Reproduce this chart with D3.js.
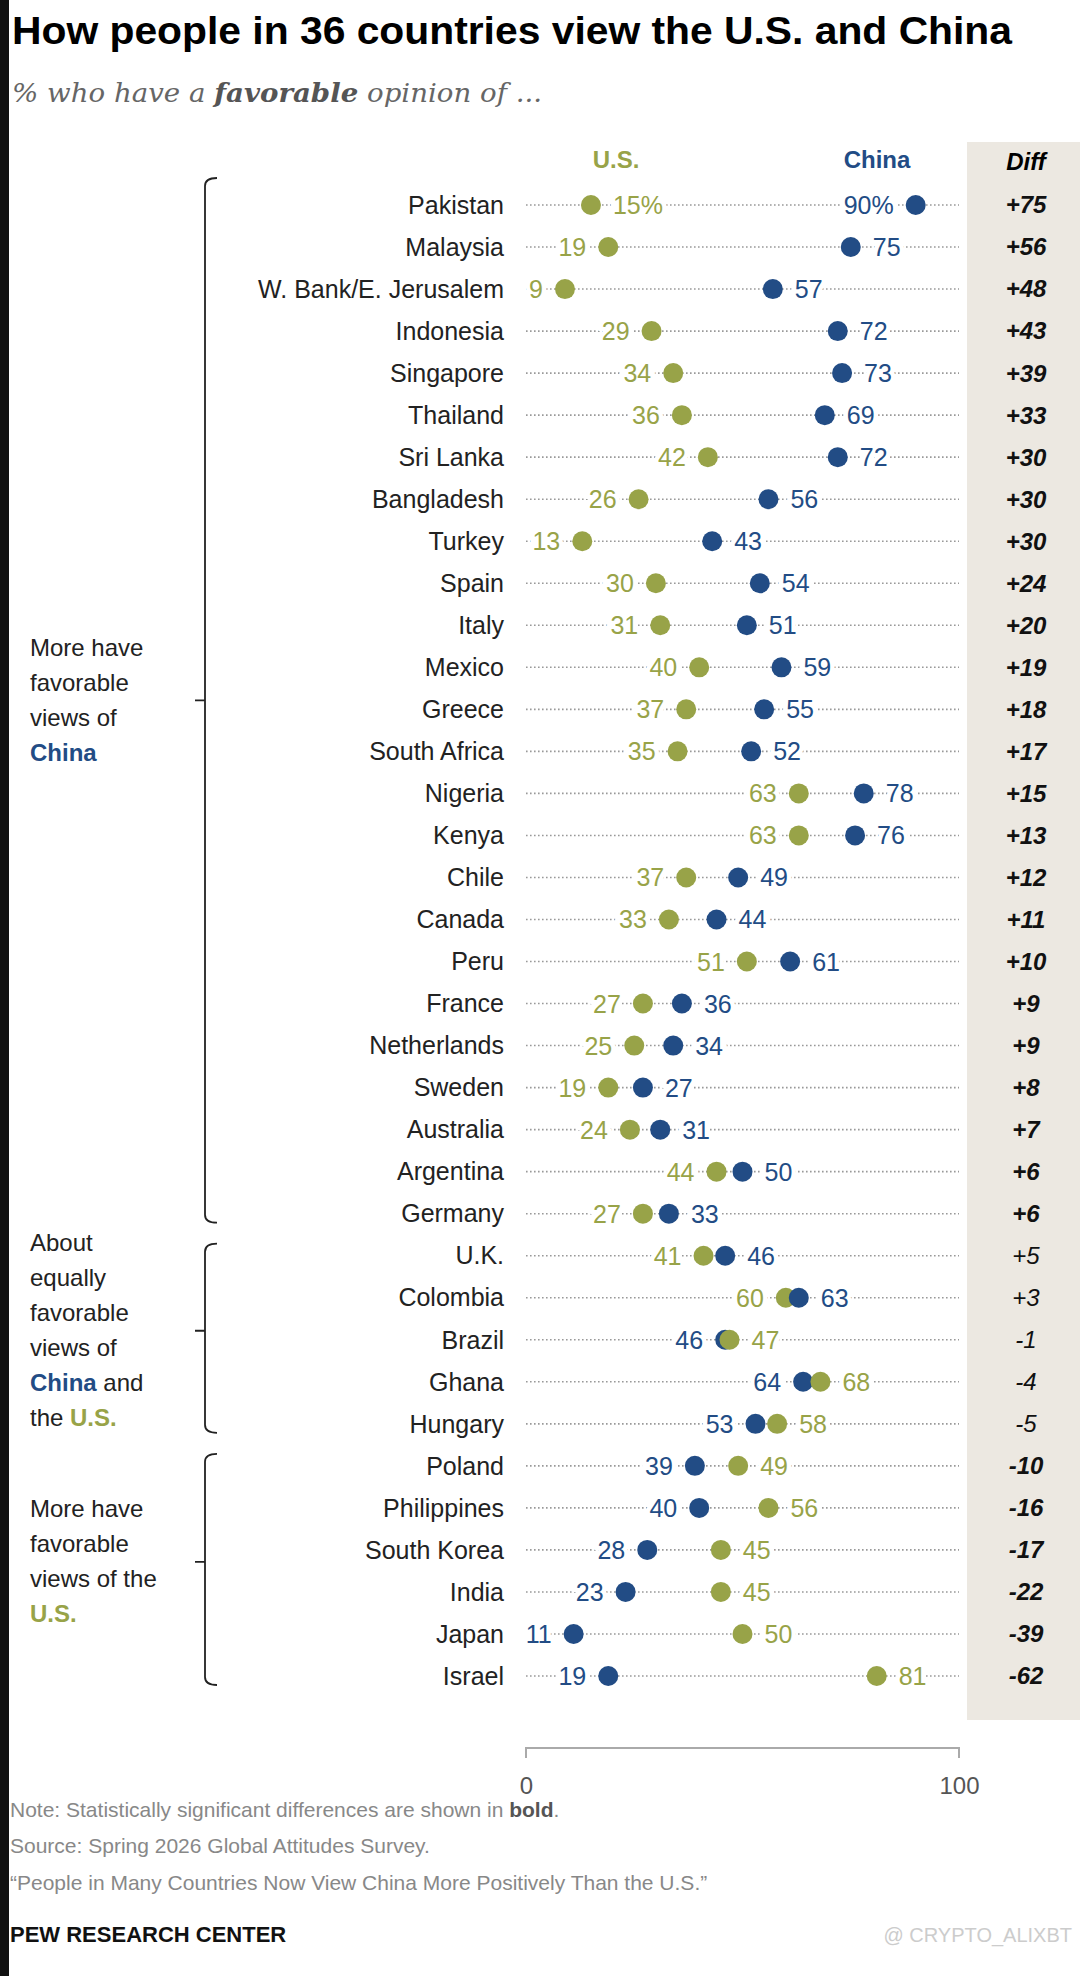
<!DOCTYPE html>
<html><head><meta charset="utf-8">
<script src="https://cdn.jsdelivr.net/npm/d3@7"></script>
<style>body{margin:0;background:#fff}svg{display:block}</style>
</head><body>
<script>
const countries=["Pakistan","Malaysia","W. Bank/E. Jerusalem","Indonesia","Singapore","Thailand","Sri Lanka","Bangladesh","Turkey","Spain","Italy","Mexico","Greece","South Africa","Nigeria","Kenya","Chile","Canada","Peru","France","Netherlands","Sweden","Australia","Argentina","Germany","U.K.","Colombia","Brazil","Ghana","Hungary","Poland","Philippines","South Korea","India","Japan","Israel"];
const usValues=[15,19,9,29,34,36,42,26,13,30,31,40,37,35,63,63,37,33,51,27,25,19,24,44,27,41,60,47,68,58,49,56,45,45,50,81];
const chinaValues=[90,75,57,72,73,69,72,56,43,54,51,59,55,52,78,76,49,44,61,36,34,27,31,50,33,46,63,46,64,53,39,40,28,23,11,19];
const diffLabels=["+75","+56","+48","+43","+39","+33","+30","+30","+30","+24","+20","+19","+18","+17","+15","+13","+12","+11","+10","+9","+9","+8","+7","+6","+6","+5","+3","-1","-4","-5","-10","-16","-17","-22","-39","-62"];
const diffBold=[1,1,1,1,1,1,1,1,1,1,1,1,1,1,1,1,1,1,1,1,1,1,1,1,1,0,0,0,0,0,1,1,1,1,1,1];
const groups=[{from:0,to:24,lines:[["More have"],["favorable"],["views of"],[["China","c"]]]},
 {from:25,to:29,lines:[["About"],["equally"],["favorable"],["views of"],[["China","c"],[" and",""]],[["the ",""],["U.S.","u"]]]},
 {from:30,to:35,lines:[["More have"],["favorable"],["views of the"],[["U.S.","u"]]]}];
const axisTicks=[0,100];

const US="#98a348",CN="#224c85",F="'Liberation Sans',Arial,sans-serif";
const W=1080,H=1976;
const svg=d3.select("body").append("svg").attr("width",W).attr("height",H).style("font-family",F);
svg.append("rect").attr("width",W).attr("height",H).attr("fill","#fff");
svg.append("rect").attr("width",9).attr("height",H).attr("fill","#111");

const x=d3.scaleLinear().domain([0,100]).range([526,959]);
const y=d3.scalePoint().domain(countries).range([205,1676]);

svg.append("text").attr("x",12).attr("y",44).attr("font-size",38).attr("font-weight","bold").attr("textLength",1000).attr("lengthAdjust","spacingAndGlyphs").text("How people in 36 countries view the U.S. and China");
const st=svg.append("text").attr("x",12).attr("y",102).attr("font-size",26).attr("font-style","italic").attr("fill","#666").attr("font-family","'DejaVu Serif',Georgia,serif").attr("textLength",530).attr("lengthAdjust","spacingAndGlyphs");
st.append("tspan").text("% who have a ");
st.append("tspan").attr("font-weight","bold").attr("fill","#555").text("favorable");
st.append("tspan").text(" opinion of ...");

svg.append("rect").attr("x",967).attr("y",142).attr("width",113).attr("height",1578).attr("fill","#ece8e1");
svg.append("text").attr("x",1026).attr("y",170).attr("text-anchor","middle").attr("font-size",24).attr("font-weight","bold").attr("font-style","italic").text("Diff");
svg.append("text").attr("x",616).attr("y",168).attr("text-anchor","middle").attr("font-size",24).attr("font-weight","bold").attr("fill",US).text("U.S.");
svg.append("text").attr("x",877).attr("y",168).attr("text-anchor","middle").attr("font-size",24).attr("font-weight","bold").attr("fill",CN).text("China");

const rows=svg.append("g").selectAll("g").data(countries).join("g").attr("transform",d=>`translate(0,${y(d)})`);
rows.append("line").attr("x1",x(0)).attr("x2",x(100)).attr("stroke","#999").attr("stroke-width",1.6).attr("stroke-dasharray","1.6 2.4");
rows.append("text").attr("x",504).attr("dy","0.35em").attr("text-anchor","end").attr("font-size",25).attr("fill","#222").text(d=>d);
rows.append("text").attr("x",1026).attr("dy","0.35em").attr("text-anchor","middle").attr("font-size",24).attr("font-style","italic").attr("font-weight",(d,i)=>diffBold[i]?"bold":"normal").attr("fill","#111").text((d,i)=>diffLabels[i]);

rows.each(function(d,i){
  const g=d3.select(this);
  const u=usValues[i],c=chinaValues[i];
  const pts=[{v:u,col:US},{v:c,col:CN}];
  let uSide=u<=c?-1:1, cSide=-uSide;
  if(i===0){uSide=1;cSide=-1;}
  const lab=[[u,US,uSide],[c,CN,cSide]];
  lab.forEach(([v,col,s])=>{
    g.append("text").attr("x",x(v)+s*22).attr("dy","0.36em").attr("text-anchor",s<0?"end":"start")
     .attr("font-size",25).attr("fill",col).attr("stroke","#fff").attr("stroke-width",9).attr("paint-order","stroke")
     .text(i===0?v+"%":v);
  });
  const order=u>c?[pts[1],pts[0]]:[pts[0],pts[1]];
  order.forEach(p=>g.append("circle").attr("cx",x(p.v)).attr("r",10).attr("fill",p.col));
});

groups.forEach(gr=>{
  const t=y(countries[gr.from])-27,b=y(countries[gr.to])+9,m=(t+b)/2,bx=205;
  const t2=gr.from===0?t:t+15;
  svg.append("path").attr("d",`M${bx+12},${t2}Q${bx},${t2} ${bx},${t2+8}L${bx},${b-8}Q${bx},${b} ${bx+12},${b}M${bx},${m}L${bx-10},${m}`).attr("fill","none").attr("stroke","#222").attr("stroke-width",1.8);
  const lh=35,y0=m-(gr.lines.length-1)*lh/2+8;
  gr.lines.forEach((ln,k)=>{
    const tx=svg.append("text").attr("x",30).attr("y",y0+k*lh).attr("font-size",24).attr("fill","#222");
    ln.forEach(seg=>{
      if(typeof seg==="string"){tx.append("tspan").text(seg);}
      else{tx.append("tspan").attr("font-weight",seg[1]?"bold":"normal").attr("fill",seg[1]==="c"?CN:seg[1]==="u"?US:"#222").text(seg[0]);}
    });
  });
});

const ax=d3.axisTop(x).tickValues(axisTicks).tickSize(0).tickFormat(d3.format("d"));
const axg=svg.append("g").attr("transform","translate(0,1748)").call(ax);
axg.select(".domain").attr("stroke","#aaa").attr("stroke-width",2).attr("d",`M${x(0)},10V0H${x(100)}V10`);
axg.selectAll(".tick text").attr("y",46).attr("dy",0).attr("font-size",24).attr("fill","#555").attr("font-family",F);

const foot=[["Note: Statistically significant differences are shown in ",1817],["Source: Spring 2026 Global Attitudes Survey.",1853],["\u201cPeople in Many Countries Now View China More Positively Than the U.S.\u201d",1890]];
foot.forEach(([t,yy],k)=>{
  const tx=svg.append("text").attr("x",10).attr("y",yy).attr("font-size",21).attr("fill","#888").text(t);
  if(k===0){tx.append("tspan").attr("font-weight","bold").attr("fill","#555").text("bold");tx.append("tspan").text(".");}
});
svg.append("text").attr("x",10).attr("y",1942).attr("font-size",22).attr("font-weight","bold").attr("fill","#111").text("PEW RESEARCH CENTER");
svg.append("text").attr("x",1072).attr("y",1942).attr("text-anchor","end").attr("font-size",20).attr("fill","#ccc").text("@ CRYPTO_ALIXBT");
</script>
</body></html>
